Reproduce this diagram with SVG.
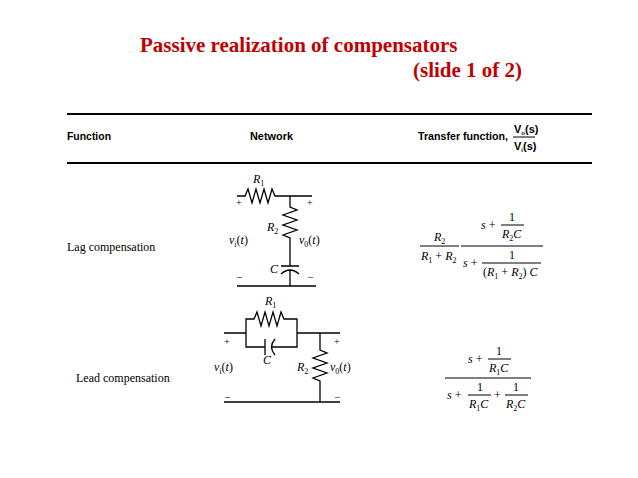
<svg xmlns="http://www.w3.org/2000/svg" width="638" height="478" viewBox="0 0 638 478">
<style>
.t{font-family:"Liberation Serif",serif;fill:#000}
.m{font-family:"Liberation Serif",serif;font-size:12px;font-style:italic;fill:#000}
.r{font-style:normal}
.s{font-size:8px;font-style:normal}
.h{font-family:"Liberation Sans",sans-serif;font-size:11px;font-weight:bold;fill:#000}
.w{stroke:#000;stroke-width:1.3;fill:none}
</style>
<rect width="638" height="478" fill="#fff"/>
<g id="title" font-family="Liberation Serif,serif" font-weight="bold" fill="#c00000" font-size="21">
<text x="140" y="52">Passive realization of compensators</text>
<text x="413" y="77">(slide 1 of 2)</text>
</g>
<g id="table-lines">
<line x1="67" y1="114" x2="592" y2="114" stroke="#000" stroke-width="2"/>
<line x1="67" y1="163" x2="592" y2="163" stroke="#000" stroke-width="2"/>
</g>
<g id="header">
<text class="h" x="67" y="140" textLength="44" lengthAdjust="spacingAndGlyphs">Function</text>
<text class="h" x="250" y="140" textLength="43" lengthAdjust="spacingAndGlyphs">Network</text>
<text class="h" x="418" y="140" textLength="90" lengthAdjust="spacingAndGlyphs">Transfer function,</text>
<text class="h" x="514" y="133" font-size="10">V<tspan font-size="6" dy="2">o</tspan><tspan dy="-2">(s)</tspan></text>
<line x1="513" y1="137" x2="535" y2="137" stroke="#000" stroke-width="1"/>
<text class="h" x="514" y="150" font-size="10">V<tspan font-size="6" dy="2">i</tspan><tspan dy="-2">(s)</tspan></text>
</g>
<g id="lag-label"><text class="t" x="67" y="251" font-size="12">Lag compensation</text></g>
<g id="lead-label"><text class="t" x="76" y="382" font-size="12">Lead compensation</text></g>
<g id="lag-network">
<path class="w" d="M237,196 H245 l3,-7 l4,14 l4,-14 l4,14 l4,-14 l4,14 l4,-14 l3,7 H312 M290,196 V207 l7,3 l-14,5 l14,5 l-14,5 l14,5 l-14,5 l7,3 V266 M281,266 H299 M281,274 Q290,266 299,274 M290,270 V286 M237,286 H316"/>
<text class="m" x="253" y="183">R<tspan class="s" dy="3">1</tspan></text>
<text class="m" x="267" y="231">R<tspan class="s" dy="3">2</tspan></text>
<text class="m" x="229" y="244">v<tspan class="s" dy="3" font-style="italic">i</tspan><tspan dy="-3" class="r">(</tspan>t<tspan class="r">)</tspan></text>
<text class="m" x="299" y="244">v<tspan class="s" dy="3">0</tspan><tspan dy="-3" class="r">(</tspan>t<tspan class="r">)</tspan></text>
<text class="m" x="270" y="273">C</text>
<text class="t" x="236" y="206" font-size="10">+</text>
<text class="t" x="307" y="206" font-size="10">+</text>
<text class="t" x="237" y="280" font-size="10">–</text>
<text class="t" x="308" y="280" font-size="10">–</text>
</g>
<g id="lead-network">
<path class="w" d="M224,333 H246 V319 H254 l3,-7 l4,14 l4,-14 l4,14 l4,-14 l4,14 l4,-14 l3,7 H297 V347 H271 M265,347 H246 V333 M265,339 V355 M275,339 Q268,347 275,355 M297,333 H340 M320,333 V350 l7,3 l-14,5 l14,5 l-14,5 l14,5 l-14,5 l7,3 V402 M224,402 H340"/>
<text class="m" x="265" y="305">R<tspan class="s" dy="3">1</tspan></text>
<text class="m" x="263" y="364">C</text>
<text class="m" x="214" y="371">v<tspan class="s" dy="3" font-style="italic">i</tspan><tspan dy="-3" class="r">(</tspan>t<tspan class="r">)</tspan></text>
<text class="m" x="297" y="371">R<tspan class="s" dy="3">2</tspan></text>
<text class="m" x="330" y="371">v<tspan class="s" dy="3">0</tspan><tspan dy="-3" class="r">(</tspan>t<tspan class="r">)</tspan></text>
<text class="t" x="224" y="345" font-size="10">+</text>
<text class="t" x="334" y="345" font-size="10">+</text>
<text class="t" x="225" y="400" font-size="10">–</text>
<text class="t" x="335" y="400" font-size="10">–</text>
</g>
<g id="lag-tf">
<text class="m" x="434" y="241">R<tspan class="s" dy="3">2</tspan></text>
<line x1="420" y1="246" x2="459" y2="246" stroke="#000" stroke-width="1"/>
<text class="m" x="421" y="260">R<tspan class="s" dy="3">1</tspan><tspan dy="-3" class="r"> + </tspan>R<tspan class="s" dy="3">2</tspan></text>
<line x1="461" y1="246" x2="543" y2="246" stroke="#000" stroke-width="1"/>
<text class="m" x="481" y="229">s<tspan class="r"> +</tspan></text>
<text class="t" x="509" y="221" font-size="12">1</text>
<line x1="501" y1="225" x2="524" y2="225" stroke="#000" stroke-width="1"/>
<text class="m" x="502" y="238">R<tspan class="s" dy="3">2</tspan><tspan dy="-3">C</tspan></text>
<text class="m" x="463" y="267">s<tspan class="r"> +</tspan></text>
<text class="t" x="509" y="259" font-size="12">1</text>
<line x1="482" y1="263" x2="541" y2="263" stroke="#000" stroke-width="1"/>
<text class="m" x="483" y="276"><tspan class="r">(</tspan>R<tspan class="s" dy="3">1</tspan><tspan dy="-3" class="r"> + </tspan>R<tspan class="s" dy="3">2</tspan><tspan dy="-3" class="r">) </tspan>C</text>
</g>
<g id="lead-tf">
<text class="m" x="468" y="363">s<tspan class="r"> +</tspan></text>
<text class="t" x="496" y="355" font-size="12">1</text>
<line x1="488" y1="359" x2="511" y2="359" stroke="#000" stroke-width="1"/>
<text class="m" x="489" y="372">R<tspan class="s" dy="3">1</tspan><tspan dy="-3">C</tspan></text>
<line x1="445" y1="378" x2="531" y2="378" stroke="#000" stroke-width="1"/>
<text class="m" x="447" y="399">s<tspan class="r"> +</tspan></text>
<text class="t" x="477" y="391" font-size="12">1</text>
<line x1="468" y1="395" x2="491" y2="395" stroke="#000" stroke-width="1"/>
<text class="m" x="469" y="408">R<tspan class="s" dy="3">1</tspan><tspan dy="-3">C</tspan></text>
<text class="t" x="494" y="399" font-size="12">+</text>
<text class="t" x="513" y="391" font-size="12">1</text>
<line x1="505" y1="395" x2="528" y2="395" stroke="#000" stroke-width="1"/>
<text class="m" x="506" y="408">R<tspan class="s" dy="3">2</tspan><tspan dy="-3">C</tspan></text>
</g>
</svg>
